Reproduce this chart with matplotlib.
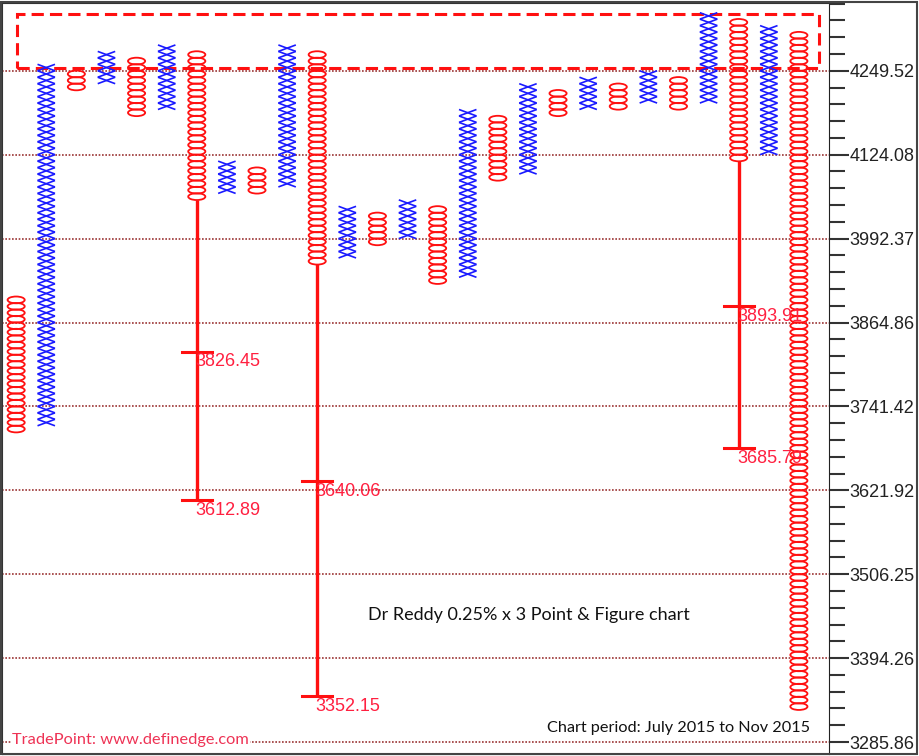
import matplotlib
matplotlib.use('Agg')
import matplotlib.pyplot as plt
from matplotlib.patches import Ellipse, Rectangle
from matplotlib.collections import LineCollection, PatchCollection

plt.rcParams['font.family'] = ['Liberation Sans Narrow', 'Liberation Sans', 'DejaVu Sans']

# Point & Figure columns, in box levels (level 0 = 3285.86, one box = 0.25%)
col_types = ['O', 'X', 'O', 'X', 'O', 'X', 'O', 'X', 'O', 'X', 'O', 'X', 'O', 'X',
             'O', 'X', 'O', 'X', 'O', 'X', 'O', 'X', 'O', 'X', 'O', 'X', 'O']
col_low = [48, 49, 101, 102, 97, 98, 84, 85, 85, 86, 74, 75, 77, 78,
           71, 72, 87, 88, 97, 98, 98, 99, 98, 99, 90, 91, 5]
col_high = [69, 105, 104, 107, 106, 108, 107, 90, 89, 108, 107, 83, 82, 84,
            83, 98, 97, 102, 101, 103, 102, 104, 103, 113, 112, 111, 110]

# right axis price labels, one every 13 boxes
grid_levels = [0, 13, 26, 39, 52, 65, 78, 91, 104]
grid_labels = ['3285.86', '3394.26', '3506.25', '3621.92', '3741.42',
               '3864.86', '3992.37', '4124.08', '4249.52']

# vertical count targets: column, start level, first target, second target
target_cols = [6, 10, 24]
target_start = [84, 74, 90]
target_mid = [60.5, 40.5, 67.5]
target_end = [37.5, 7.2, 45.5]
target_mid_labels = ['3826.45', '3640.06', '3893.91']
target_end_labels = ['3612.89', '3352.15', '3685.79']

RED = '#ff1010'
BLUE = '#1a1aff'

fig = plt.figure(figsize=(9.2, 7.56), dpi=100)
ax = fig.add_axes([2 / 920, 2 / 756, 827 / 920, 751 / 756])
ax.set_xlim(-0.47, 27.0)
ax.set_ylim(-1.85, 114.5)

# grid
ax.set_yticks(grid_levels)
ax.set_yticklabels(grid_labels)
ax.set_yticks([i * 2.6 for i in range(45)], minor=True)
ax.yaxis.tick_right()
ax.set_xticks([])
ax.grid(axis='y', which='major', color='#9b3535', linestyle=(0, (1, 1)), lw=1.2)
ax.tick_params(axis='y', which='major', direction='out', length=14.5, width=1.5,
               color='#333333', pad=0.3, labelsize=13, labelcolor='#222222')
ax.tick_params(axis='y', which='minor', direction='out', length=11.5, width=1.5,
               color='#333333')
ax.set_axisbelow(True)
for s in ['left', 'top', 'bottom']:
    ax.spines[s].set_color('#333333')
ax.spines['right'].set_linestyle((0, (1, 1)))
ax.spines['right'].set_color('#222222')

# draw the columns
o_patches = []
x_segs = []
hw = 0.29
for i, (t, lo, hi) in enumerate(zip(col_types, col_low, col_high)):
    for k in range(lo, hi):
        if t == 'O':
            o_patches.append(Ellipse((i, k + 0.5), 0.57, 1.05))
        else:
            x_segs.append([(i - hw, k), (i + hw, k + 1)])
            x_segs.append([(i - hw, k + 1), (i + hw, k)])
ax.add_collection(PatchCollection(o_patches, facecolor='none', edgecolor=RED, lw=1.3))
ax.add_collection(LineCollection(x_segs, colors=BLUE, lw=1.2))

# count targets
for c, s, m, e, ml, el in zip(target_cols, target_start, target_mid, target_end,
                              target_mid_labels, target_end_labels):
    ax.plot([c, c], [s, e], color=RED, lw=2.4, solid_capstyle='butt')
    ax.plot([c - 0.5, c + 0.5], [m, m], color=RED, lw=2.2)
    ax.plot([c - 0.5, c + 0.5], [e, e], color=RED, lw=2.2)
    ax.annotate(ml, xy=(c, m), xytext=(-1, -7.5), textcoords='offset points',
                ha='left', va='center', color='#ff2040', fontsize=13)
    ax.annotate(el, xy=(c, e), xytext=(-1, -7.5), textcoords='offset points',
                ha='left', va='center', color='#ff2040', fontsize=13)

# highlighted zone at the top
ax.add_patch(Rectangle((0.02, 104.5), 26.65, 8.3, fill=False, ec=RED, lw=2.2,
                       linestyle=(0, (4, 2))))

fig.text(528.5 / 920, 1 - 615 / 756, 'Dr Reddy 0.25% x 3 Point & Figure chart',
         family='Lato', fontsize=13, ha='center', va='center', color='#111111')
fig.text(678.5 / 920, 1 - 728 / 756, 'Chart period: July 2015 to Nov 2015',
         family='Lato', fontsize=11.7, ha='center', va='center', color='#111111')
fig.text(12 / 920, 1 - 740 / 756, 'TradePoint: www.definedge.com',
         family='Lato', fontsize=11.8, ha='left', va='center', color='#ee3355',
         bbox=dict(facecolor='white', edgecolor='none', pad=1))

fig.patches.append(Rectangle((1 / 920, 2 / 756), 916 / 920, 752 / 756, fill=False,
                             ec='#444444', lw=1.5, transform=fig.transFigure))

fig.savefig('out.png', dpi=100)
